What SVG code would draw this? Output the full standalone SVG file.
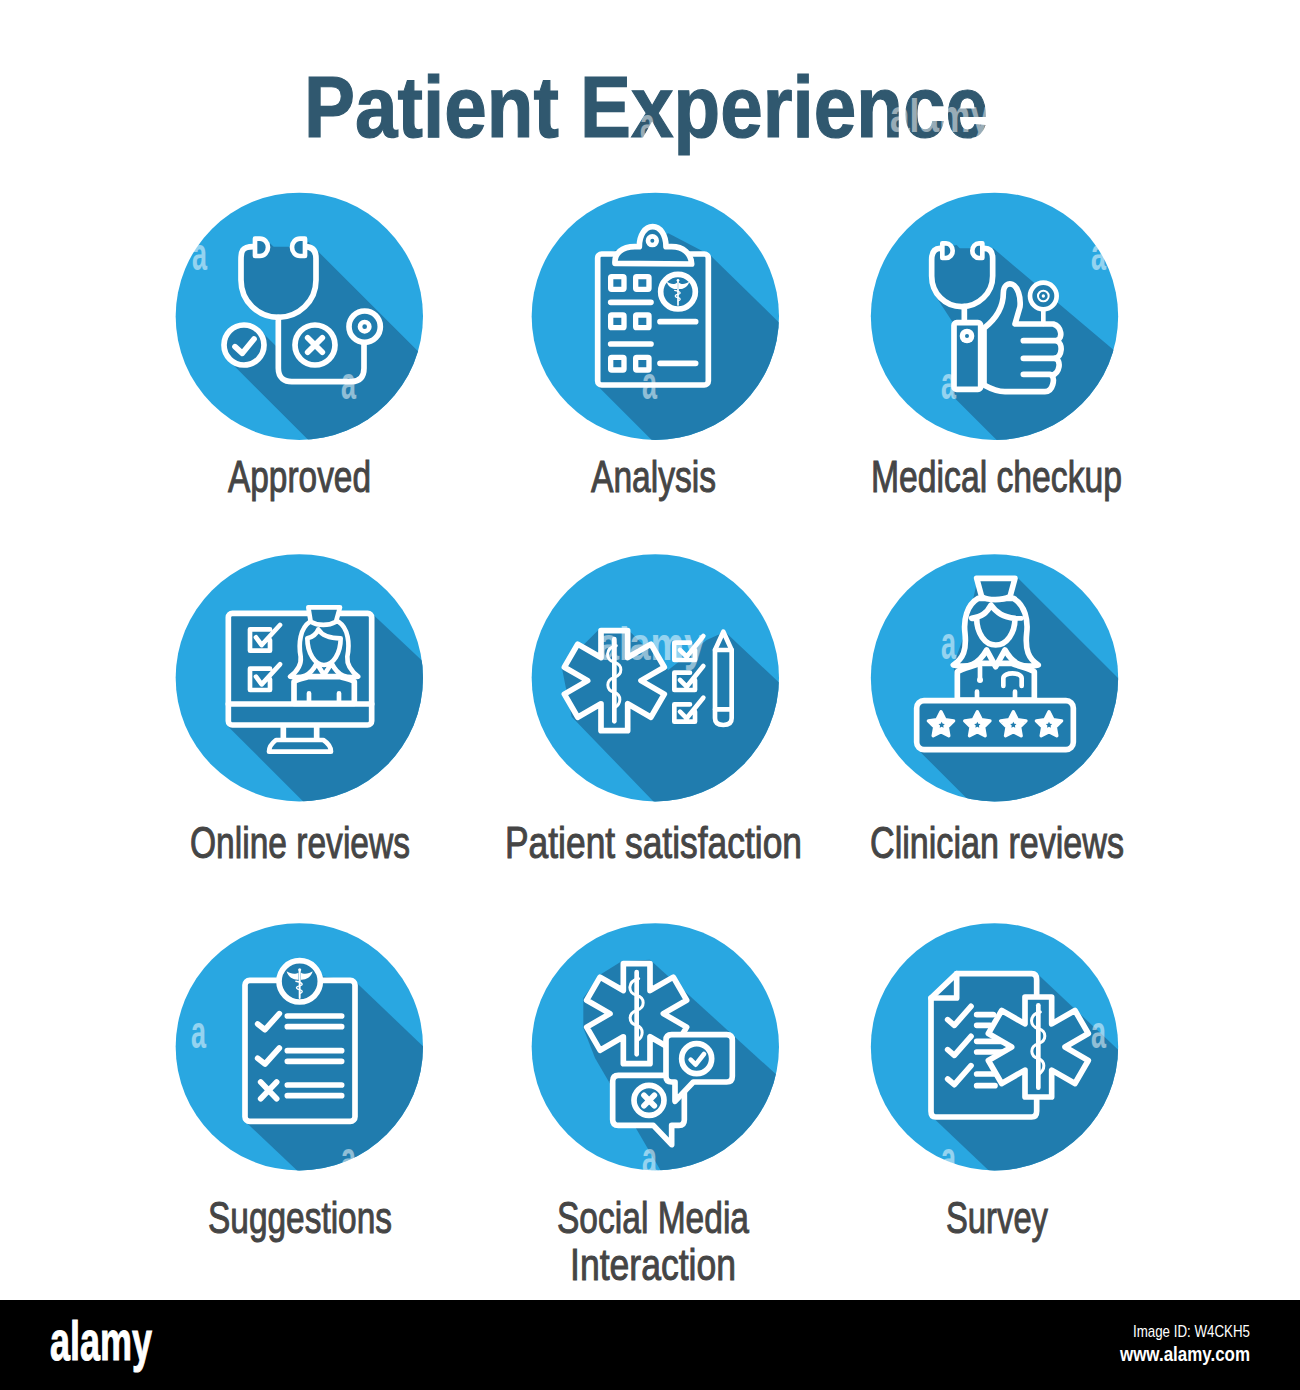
<svg xmlns="http://www.w3.org/2000/svg" xmlns:xlink="http://www.w3.org/1999/xlink" width="1300" height="1390" viewBox="0 0 1300 1390">
<style>
.disc{fill:#29a7e1}
.sh{fill:#207cae}
.s{fill:none;stroke:#fff;stroke-width:17;stroke-linecap:round;stroke-linejoin:round}
.d{fill:#207cae;stroke:#fff;stroke-width:17;stroke-linecap:round;stroke-linejoin:round}
.t{stroke-width:14}
.w{fill:#fff}
.lab{font-family:"Liberation Sans Narrow","Liberation Sans",sans-serif;font-size:45px;fill:#454545;text-anchor:start;stroke:#454545;stroke-width:1}
.title{font-family:"Liberation Sans",Arial,sans-serif;font-weight:700;font-size:88px;fill:#30586f;stroke:#30586f;stroke-width:1.2}
.wm{font-family:"Liberation Sans",Arial,sans-serif;font-weight:700;font-size:46px;fill:#fff;opacity:.5}
.foot{font-family:"Liberation Sans",Arial,sans-serif;fill:#fff}
</style>
<defs>
<g id="sol">
<path class="d" d="M-40,-150H40V-69.3L109.9,-109.6 149.9,-40.4 80,0 149.9,40.4 109.9,109.6 40,69.3V150H-40V69.3L-109.9,109.6 -149.9,40.4 -80,0 -149.9,-40.4 -109.9,-109.6 -40,-69.3Z"/>
<path class="s" style="stroke-width:14" d="M0,-125V122"/>
<path class="s" style="stroke-width:9" d="M6,-105C-28,-98 -28,-62 0,-55C26,-48 26,-18 0,-10C-26,-2 -26,28 0,35C22,42 22,70 0,82"/>
</g>
<g id="cad">
<path class="w" d="M-3,-25C-12,-18 -25,-22 -34,-28C-30,-12 -15,-5 -3,-6ZM3,-25C12,-18 25,-22 34,-28C30,-12 15,-5 3,-6Z"/>
<circle class="w" cx="0" cy="-32" r="4"/>
<path class="s" style="stroke-width:5" d="M0,-28V42"/>
<path class="s" style="stroke-width:3.5" d="M-10,-2C10,2 10,8 0,10C-11,12 -11,18 0,20C9,22 9,27 0,30"/>
</g>
<path id="star" class="w" style="stroke:#fff;stroke-width:10;stroke-linejoin:round" d="M0,-40L11.8,-16.2 38,-12.4 19,6.2 23.5,32.4 0,20 -23.5,32.4 -19,6.2 -38,-12.4 -11.8,-16.2Z"/>
<path id="mini" class="sh" d="M0,-10L3,-4 9.5,-3 4.8,1.6 5.8,8 0,5 -5.8,8 -4.8,1.6 -9.5,-3 -3,-4Z"/>
<clipPath id="c1"><circle cx="388" cy="379" r="371"/></clipPath>
<clipPath id="c2"><circle cx="391" cy="379" r="371"/></clipPath>
<clipPath id="c3"><circle cx="388.5" cy="379" r="371"/></clipPath>
<clipPath id="c4"><circle cx="388" cy="383.5" r="371"/></clipPath>
<clipPath id="c5"><circle cx="391" cy="383.5" r="371"/></clipPath>
<clipPath id="c6"><circle cx="388.5" cy="383.5" r="371"/></clipPath>
<clipPath id="c7"><circle cx="388" cy="386.5" r="371"/></clipPath>
<clipPath id="c8"><circle cx="391" cy="386.5" r="371"/></clipPath>
<clipPath id="c9"><circle cx="388.5" cy="386.5" r="371"/></clipPath>
</defs>
<rect width="1300" height="1390" fill="#fff"/>
<text id="title" class="title" x="304" y="137" textLength="684" lengthAdjust="spacingAndGlyphs">Patient Experience</text>

<g id="approved">
<g transform="translate(170,190) scale(.33333)">
<circle class="disc" cx="388" cy="379" r="371"/>
<path class="sh" clip-path="url(#c1)" d="M300,160L430,290 440,262 365,190 415,155 780,520V780H445L175,510 270,420 320,470 320,395 215,290Z"/>
<path class="d" d="M250,170C215,170 213,185 213,210V270C213,335 265,382 325,382C385,382 438,335 438,270V205C438,180 425,170 405,170"/>
<path class="d t" d="M255,146H270A24,26 0 0 1 270,198H255Z"/>
<path class="d t" d="M405,146H390A24,26 0 0 0 390,198H405Z"/>
<path class="s" d="M325,382V535C325,565 345,575 365,575H545C570,575 582,560 582,535V455"/>
<circle class="d" cx="584" cy="410" r="47"/>
<circle class="d t" cx="584" cy="410" r="14"/>
<circle class="d" cx="222" cy="465" r="60"/>
<path class="s" d="M195,470L217,490 252,447"/>
<circle class="d" cx="435" cy="465" r="60"/>
<path class="s" d="M413,443L457,487M457,443L413,487"/>
</g>
<text class="lab" x="228" y="492" textLength="143" lengthAdjust="spacingAndGlyphs">Approved</text>
</g>

<g id="analysis">
<g transform="translate(525,190) scale(.33333)">
<circle class="disc" cx="391" cy="379" r="371"/>
<path class="sh" clip-path="url(#c2)" d="M430,130L555,195 775,410V780H410L215,585V200Z"/>
<rect class="d" x="218" y="192" width="332" height="393" rx="12"/>
<path class="d" d="M270,220C268,190 290,170 330,170H343C343,135 360,110 383,110C406,110 423,135 423,170H440C475,170 498,190 500,222Z"/>
<circle class="d t" cx="382" cy="152" r="13"/>
<g class="s" style="stroke-width:16">
<rect x="257" y="260" width="40" height="38" rx="3"/><rect x="332" y="260" width="40" height="38" rx="3"/>
<rect x="257" y="375" width="40" height="38" rx="3"/><rect x="332" y="375" width="40" height="38" rx="3"/>
<rect x="257" y="502" width="40" height="38" rx="3"/><rect x="332" y="502" width="40" height="38" rx="3"/>
</g>
<path class="s" d="M257,337H378M257,462H378M405,395H512M405,520H512"/>
<circle class="d" cx="459" cy="305" r="52"/>
<use href="#cad" transform="translate(459,303)"/>
</g>
<text class="lab" x="591" y="492" textLength="125" lengthAdjust="spacingAndGlyphs">Analysis</text>
</g>

<g id="medical-checkup">
<g transform="translate(865,190) scale(.33333)">
<circle class="disc" cx="388.5" cy="379" r="371"/>
<path class="sh" clip-path="url(#c3)" d="M275,165L375,275 375,250 320,195 385,175 770,500V780H425L265,620V400L200,300V180Z"/>
<path class="d" d="M225,175C205,175 200,190 200,210V258C200,310 240,350 290,350C340,350 383,310 383,258V205C383,185 375,175 358,175"/>
<path class="d t" d="M232,160H243A20,22 0 0 1 243,204H232Z"/>
<path class="d t" d="M352,160H342A20,22 0 0 0 342,204H352Z"/>
<path class="s" d="M298,350V395"/>
<path class="d" d="M357,415C395,385 415,350 415,310C415,285 430,278 442,283C458,290 468,320 465,350L450,402H565C590,410 595,445 575,452C595,460 592,500 570,505C590,510 585,550 560,556C570,565 565,605 540,605H420C395,605 375,595 357,585Z"/>
<path class="s" d="M475,452H575M475,505H570M475,553H555"/>
<rect class="d" x="267" y="398" width="80" height="200" rx="8"/>
<circle class="w" cx="306" cy="438" r="22"/>
<circle class="sh" cx="306" cy="438" r="6"/>
<path class="s t" d="M535,358V402"/>
<circle class="d t" cx="535" cy="318" r="40"/>
<circle class="s" style="stroke-width:6" cx="535" cy="318" r="16"/>
<circle class="w" cx="535" cy="318" r="5"/>
</g>
<text class="lab" x="871" y="492" textLength="251" lengthAdjust="spacingAndGlyphs">Medical checkup</text>
</g>

<g id="online-reviews">
<g transform="translate(170,550) scale(.33333)">
<circle class="disc" cx="388" cy="383.5" r="371"/>
<path class="sh" clip-path="url(#c4)" d="M605,190L770,345V780H425L175,530Z"/>
<rect class="d" x="175" y="190" width="430" height="335" rx="12"/>
<path class="s" d="M175,462H605M340,530V570M440,530V570"/>
<path class="d t" d="M318,570H460C475,580 483,595 483,605H297C297,595 305,580 318,570Z"/>
<path class="s t" d="M300,238H240V302H300V270M258,262L275,285 330,225"/>
<path class="s t" d="M300,356H240V420H300V388M258,380L275,403 330,343"/>
<path class="d" d="M372,460V395C385,385 400,385 415,380H510C525,385 540,385 553,395V460Z"/>
<path class="d t" d="M420,215C390,235 385,280 392,320C395,345 380,365 360,380C395,385 420,380 440,340L462,375 485,340C505,380 530,385 565,380C545,365 530,345 532,320C540,280 535,235 505,215Z"/>
<path class="d t" d="M412,265C412,310 435,345 462,345C490,345 512,310 512,265C480,265 455,255 445,238C438,255 425,262 412,265Z"/>
<path class="d t" d="M415,172H510L498,215C475,228 445,228 422,215Z"/>
<path class="s t" d="M417,430V460M507,430V460"/>
</g>
<text class="lab" x="190" y="858" textLength="220" lengthAdjust="spacingAndGlyphs">Online reviews</text>
</g>

<g id="patient-satisfaction">
<g transform="translate(525,550) scale(.33333)">
<circle class="disc" cx="391" cy="383.5" r="371"/>
<path class="sh" clip-path="url(#c5)" d="M545,270L600,245 775,410V780H410L140,500 110,350 220,240H310L430,360Z"/>
<use href="#sol" transform="translate(268,392)"/>
<path class="s t" d="M495,278H448V330H510V300M465,300L485,320 535,258"/>
<path class="s t" d="M495,368H448V420H510V390M465,390L485,410 535,348"/>
<path class="s t" d="M495,463H448V515H510V485M465,485L485,505 535,443"/>
<path class="d t" d="M570,300L595,245 620,300V505Q620,525 595,525Q570,525 570,505Z"/>
<path class="s t" d="M570,300H620M570,478H620"/>
</g>
<text class="lab" x="505" y="858" textLength="297" lengthAdjust="spacingAndGlyphs">Patient satisfaction</text>
</g>

<g id="clinician-reviews">
<g transform="translate(865,550) scale(.33333)">
<circle class="disc" cx="388.5" cy="383.5" r="371"/>
<path class="sh" clip-path="url(#c6)" d="M340,80H455L775,400V780H340L165,605 280,440 265,345 300,250Z"/>
<path class="d" d="M277,450V365C295,355 320,350 345,340H440C465,350 490,355 508,365V450Z"/>
<path class="d" d="M340,145C305,165 295,210 300,250C305,300 295,325 265,345C310,355 340,345 365,300L392,350 420,300C445,345 475,355 520,345C490,325 480,300 485,250C490,210 480,165 445,145Z"/>
<path class="d" d="M335,205C335,250 360,285 392,285C425,285 450,250 450,205C415,200 395,190 378,165C365,190 350,200 320,205Z"/>
<path class="s t" d="M450,205H470"/>
<path class="d" d="M335,85H450L435,140C410,152 370,152 350,140Z"/>
<path class="s t" d="M345,350V385M415,408V385C415,365 470,365 470,385V408M336,425V445M450,425V445"/>
<circle class="w" cx="345" cy="390" r="9"/>
<rect class="d" x="155" y="452" width="470" height="147" rx="22"/>
<use href="#star" x="228" y="525"/><use href="#mini" x="230" y="525"/>
<use href="#star" x="337" y="525"/><use href="#mini" x="337" y="525"/>
<use href="#star" x="445" y="525"/><use href="#mini" x="445" y="525"/>
<use href="#star" x="552" y="525"/><use href="#mini" x="552" y="525"/>
</g>
<text class="lab" x="870" y="858" textLength="254" lengthAdjust="spacingAndGlyphs">Clinician reviews</text>
</g>

<g id="suggestions">
<g transform="translate(170,918) scale(.33333)">
<circle class="disc" cx="388" cy="386.5" r="371"/>
<path class="sh" clip-path="url(#c7)" d="M455,175L555,190 770,395V780H405L225,610Z"/>
<rect class="d" x="225" y="187" width="330" height="423" rx="14"/>
<circle class="d" cx="389" cy="190" r="62"/>
<use href="#cad" transform="translate(389,192) scale(1.15)"/>
<path class="s" d="M263,318L285,335 328,287M263,421L285,438 328,390M272,492L320,542M320,492L272,542"/>
<path class="s" d="M352,294H515M352,326H515M352,398H515M352,430H515M352,501H515M352,533H515"/>
</g>
<text class="lab" x="208" y="1233" textLength="184" lengthAdjust="spacingAndGlyphs">Suggestions</text>
</g>

<g id="social-media-interaction">
<g transform="translate(525,918) scale(.33333)">
<circle class="disc" cx="391" cy="386.5" r="371"/>
<path class="sh" clip-path="url(#c8)" d="M375,125L765,480V780H420L210,420 175,330V240L225,170 290,130Z"/>
<use href="#sol" transform="translate(335,287)"/>
<path class="d" d="M280,472H462Q478,472 478,490V605Q478,622 462,622H440V680L385,622H280Q263,622 263,605V490Q263,472 280,472Z"/>
<circle class="d" cx="372" cy="547" r="45"/>
<path class="s" d="M357,532L388,563M388,532L357,563"/>
<path class="d" d="M440,350H605Q622,350 622,367V475Q622,492 605,492H505L450,550V492H440Q423,492 423,475V367Q423,350 440,350Z"/>
<circle class="d" cx="515" cy="422" r="45"/>
<path class="s t" d="M497,425L512,440 537,408"/>
</g>
<text class="lab" x="557" y="1233" textLength="192" lengthAdjust="spacingAndGlyphs">Social Media</text>
<text class="lab" x="570" y="1280" textLength="166" lengthAdjust="spacingAndGlyphs">Interaction</text>
</g>

<g id="survey">
<g transform="translate(865,918) scale(.33333)">
<circle class="disc" cx="388.5" cy="386.5" r="371"/>
<path class="sh" clip-path="url(#c9)" d="M505,165L520,170 775,410V780H395L195,590Z"/>
<path class="d" d="M275,167H500Q515,167 515,185V580Q515,597 500,597H212Q198,597 198,580V240Z"/>
<path class="s" d="M198,240H275V167"/>
<path class="s" d="M248,305L268,322 318,265M248,395L268,412 318,355M248,483L268,500 318,443"/>
<path class="s" d="M335,290H385M335,322H375M335,370H420M335,402H420M335,468H385M335,503H390"/>
<use href="#sol" transform="translate(520,387)"/>
</g>
<text class="lab" x="946" y="1233" textLength="102" lengthAdjust="spacingAndGlyphs">Survey</text>
</g>

<g id="watermarks">
<text class="wm" x="192" y="270" textLength="15" lengthAdjust="spacingAndGlyphs">a</text>
<text class="wm" x="341" y="399" textLength="15" lengthAdjust="spacingAndGlyphs">a</text>
<text class="wm" x="642" y="399" textLength="15" lengthAdjust="spacingAndGlyphs">a</text>
<text class="wm" x="1091" y="270" textLength="15" lengthAdjust="spacingAndGlyphs">a</text>
<text class="wm" x="941" y="399" textLength="15" lengthAdjust="spacingAndGlyphs">a</text>
<text class="wm" x="941" y="659" textLength="15" lengthAdjust="spacingAndGlyphs">a</text>
<text class="wm" x="191" y="1048" textLength="15" lengthAdjust="spacingAndGlyphs">a</text>
<text class="wm" x="341" y="1174" textLength="15" lengthAdjust="spacingAndGlyphs">a</text>
<text class="wm" x="642" y="1174" textLength="15" lengthAdjust="spacingAndGlyphs">a</text>
<text class="wm" x="1091" y="1048" textLength="15" lengthAdjust="spacingAndGlyphs">a</text>
<text class="wm" x="941" y="1174" textLength="15" lengthAdjust="spacingAndGlyphs">a</text>
<text class="wm" x="598" y="660" textLength="107" lengthAdjust="spacingAndGlyphs">alamy</text>
<text class="wm" x="890" y="132" textLength="100" lengthAdjust="spacingAndGlyphs">alamy</text>
<text class="wm" x="640" y="140" textLength="15" lengthAdjust="spacingAndGlyphs">a</text>
</g>

<g id="footer">
<rect x="0" y="1300" width="1300" height="90" fill="#000"/>
<text class="foot" x="50" y="1360" font-size="55" font-weight="700" stroke="#fff" stroke-width="1" textLength="102" lengthAdjust="spacingAndGlyphs">alamy</text>
<text class="foot" x="1133" y="1337" font-size="17" textLength="117" lengthAdjust="spacingAndGlyphs">Image ID: W4CKH5</text>
<text class="foot" x="1120" y="1361" font-size="20" font-weight="700" textLength="130" lengthAdjust="spacingAndGlyphs">www.alamy.com</text>
</g>
</svg>
